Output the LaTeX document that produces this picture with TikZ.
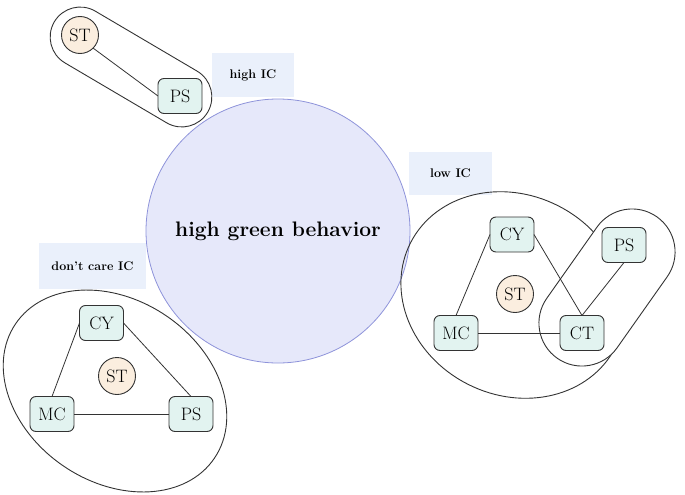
\documentclass[tikz,border=0pt]{standalone}
\usetikzlibrary{shapes.geometric}
\definecolor{boxfill}{HTML}{E2F3F0}
\definecolor{stfill}{HTML}{FBEEDF}
\definecolor{labfill}{HTML}{EAF0FB}
\definecolor{circfill}{HTML}{E6E8FA}
\definecolor{circline}{HTML}{8E93DA}
\definecolor{linec}{HTML}{333333}
\begin{document}
\begin{tikzpicture}[x=1pt,y=-1pt,
  every node/.style={inner sep=0pt, outer sep=0pt},
  box/.style={draw=linec, line width=0.9pt, fill=boxfill, rounded corners=6pt,
    minimum width=44pt, minimum height=35pt, font=\fontsize{18}{20}\selectfont},
  stnode/.style={draw=linec, line width=0.9pt, fill=stfill, circle,
    minimum size=37pt, font=\fontsize{18}{20}\selectfont},
  lab/.style={fill=labfill, font=\bfseries\fontsize{12.5}{14}\selectfont},
  link/.style={draw=linec, line width=0.8pt},
  hull/.style={draw=linec, line width=0.9pt}]
\useasboundingbox (0,0) rectangle (685,495);

% big circle
\node[circle, draw=circline, fill=circfill, line width=0.8pt, minimum size=264pt,
  font=\bfseries\fontsize{21}{24}\selectfont] (hgb) at (278,231) {high green behavior};

% label boxes
\node[lab, minimum width=82pt, minimum height=44pt] (lhigh) at (253,75) {high IC};
\node[lab, minimum width=83pt, minimum height=43pt] (llow) at (450.5,173.5) {low IC};
\node[lab, minimum width=107pt, minimum height=46pt] (ldc) at (92.5,266) {don't care IC};

% hulls
\node[hull, ellipse, minimum width=240pt, minimum height=182pt, rotate=-34] (elldc) at (115,391) {};
\node[hull, ellipse, minimum width=230pt, minimum height=200pt, rotate=-27] (elllow) at (513,295) {};
\node[hull, rectangle, rounded corners=30pt, minimum width=178pt, minimum height=60pt, rotate=-30.5] (caphigh) at (131,67) {};
\node[hull, fill=white, rectangle, rounded corners=43pt, minimum width=173pt, minimum height=86pt, rotate=54.8] (caplow) at (607,287.5) {};

% high IC group
\node[stnode] (st1) at (80,35) {ST};
\node[box] (ps1) at (180,96) {PS};

% don't care group
\node[box] (cy2) at (101.5,323) {CY};
\node[stnode] (st2) at (117,376) {ST};
\node[box] (mc2) at (52,414) {MC};
\node[box] (ps2) at (191,414) {PS};

% low IC group
\node[box] (cy3) at (512,234.5) {CY};
\node[box] (ps3) at (624,245) {PS};
\node[stnode] (st3) at (515,294) {ST};
\node[box] (mc3) at (456,333) {MC};
\node[box] (ct3) at (582,333) {CT};

% links
\draw[link] (st1.south east) -- (ps1.west);
\draw[link] (cy2.west) -- (mc2.north);
\draw[link] (cy2.east) -- (ps2.north);
\draw[link] (mc2.east) -- (ps2.west);
\draw[link] (cy3.west) -- (mc3.north);
\draw[link] (cy3.east) -- (ct3.north);
\draw[link] (ps3.south) -- (ct3.north);
\draw[link] (mc3.east) -- (ct3.west);
\end{tikzpicture}
\end{document}
